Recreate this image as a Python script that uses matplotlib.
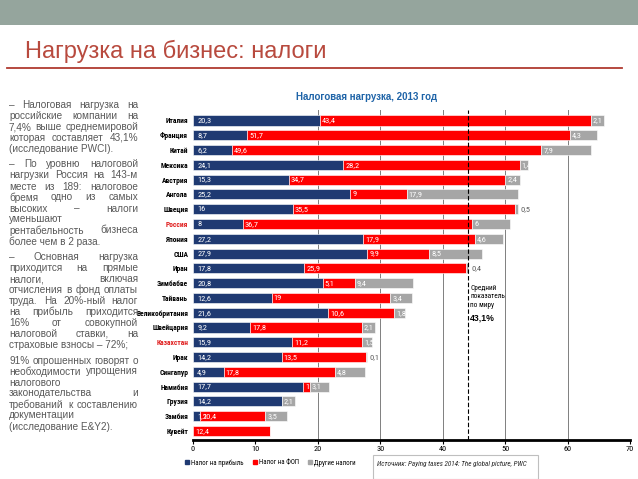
import matplotlib
matplotlib.use("Agg")
import matplotlib.pyplot as plt
from matplotlib.patches import Rectangle
from matplotlib.lines import Line2D

# --- data ---
countries = ["Италия", "Франция", "Китай", "Мексика", "Австрия", "Ангола", "Швеция",
             "Россия", "Япония", "США", "Иран", "Зимбабве", "Тайвань", "Великобритания",
             "Швейцария", "Казахстан", "Ирак", "Сингапур", "Намибия", "Грузия",
             "Замбия", "Кувейт"]
profit_tax = [20.3, 8.7, 6.2, 24.1, 15.3, 25.2, 16, 8, 27.2, 27.9, 17.8, 20.8, 12.6,
              21.6, 9.2, 15.9, 14.2, 4.9, 17.7, 14.2, 1.2, 0]
payroll_tax = [43.4, 51.7, 49.6, 28.2, 34.7, 9, 35.5, 36.7, 17.9, 9.9, 25.9, 5.1, 19,
               10.6, 17.8, 11.2, 13.5, 17.8, 1, 0, 10.4, 12.4]
other_tax = [2.1, 4.3, 7.9, 1.4, 2.4, 17.9, 0.5, 6, 4.6, 8.5, 0.4, 9.4, 3.4, 1.8, 2.1,
             1.5, 0.1, 4.8, 3.1, 2.1, 3.5, 0]
highlight = ["Россия", "Казахстан"]
series_names = ["Налог на прибыль", "Налог на ФОП", "Другие налоги"]
x_ticks = [0, 10, 20, 30, 40, 50, 60, 70]
grid_ticks = [20, 30, 40, 50, 60]
avg_line_pos = 44.1     # where the dashed line sits on the slide
avg_text = "43,1%"

slide_title = "Нагрузка на бизнес: налоги"
chart_title = "Налоговая нагрузка, 2013 год"
source_text = "Источник: Paying taxes 2014: The global picture, PWC"

paragraphs = [
    ["–   Налоговая нагрузка на",
     "российские компании на",
     "7,4% выше среднемировой",
     "которая составляет 43,1%",
     "(исследование PWCI)."],
    ["–   По уровню налоговой",
     "нагрузки Россия на 143-м",
     "месте из 189: налоговое",
     "бремя одно из самых",
     "высоких – налоги",
     "уменьшают",
     "рентабельность бизнеса",
     "более чем в 2 раза."],
    ["–   Основная нагрузка",
     "приходится на прямые",
     "налоги, включая",
     "отчисления в фонд оплаты",
     "труда. На 20%-ный налог",
     "на прибыль приходится",
     "16% от совокупной",
     "налоговой ставки, на",
     "страховые взносы – 72%;"],
    ["91% опрошенных говорят о",
     "необходимости упрощения",
     "налогового",
     "законодательства и",
     "требований к составлению",
     "документации",
     "(исследование E&Y2)."],
]

BLUE = "#1F3A72"
RED = "#FF0000"
GREY = "#A6A6A6"
NARROW = ["Liberation Sans Narrow", "Roboto Condensed", "Liberation Sans", "DejaVu Sans"]
SANS = ["Liberation Sans", "DejaVu Sans"]

W, H = 638, 479
fig = plt.figure(figsize=(W / 100, H / 100), dpi=100)
fig.patch.set_facecolor("white")
renderer = fig.canvas.get_renderer()


def fx(px):
    return px / W


def fy(py):
    return 1 - py / H


# pick a font size so that a sample string has the width it has on the slide
def fit_size(sample, target_px, family, cap=None, **kw):
    t = fig.text(0, 0, sample, fontsize=10, family=family, **kw)
    w = t.get_window_extent(renderer).width
    t.remove()
    size = 10 * target_px / w
    return min(size, cap) if cap else size


lab_size = fit_size("Великобритания", 52, NARROW, cap=6.5, fontweight="bold")
val_size = fit_size("20,3", 14, NARROW, cap=6.5)
tick_size = fit_size("10", 8, NARROW, cap=7)
leg_size = fit_size("Налог на прибыль", 52, NARROW, cap=6.5)
src_size = fit_size(source_text, 150, NARROW, style="italic")
note_size = fit_size("показатель", 35, NARROW, cap=6.5)
avg_size = fit_size(avg_text, 25, SANS, fontweight="bold")
ct_size = fit_size(chart_title, 142, SANS, fontweight="bold")
body_size = fit_size("7,4% выше среднемировой", 127, SANS)

# header band, slide title and red rule
fig.patches.append(Rectangle((0, fy(25)), 1, 25 / H, transform=fig.transFigure,
                             facecolor="#95A59D", edgecolor="none"))
fig.text(fx(25), fy(58), slide_title, fontsize=17, color="#B84A3E",
         family=SANS, va="baseline")
fig.lines.append(Line2D([fx(7), fx(622)], [fy(68), fy(68)], transform=fig.transFigure,
                        color="#B03A30", lw=1.3))

# chart
ax = fig.add_axes([fx(193), fy(440), fx(630) - fx(193), (440 - 110) / H])
ys = list(range(len(countries)))
left2 = [a + b for a, b in zip(profit_tax, payroll_tax)]
bh = 0.68
ax.barh(ys, profit_tax, height=bh, color=BLUE, edgecolor="white", lw=0.4, zorder=3)
ax.barh(ys, payroll_tax, left=profit_tax, height=bh, color=RED, edgecolor="white",
        lw=0.4, zorder=3)
ax.barh(ys, other_tax, left=left2, height=bh, color=GREY, edgecolor="white",
        lw=0.4, zorder=3)

for i in ys:
    segs = [(0, profit_tax[i]), (profit_tax[i], payroll_tax[i]), (left2[i], other_tax[i])]
    for k, (start, v) in enumerate(segs):
        if v == 0:
            continue
        lab = ("%g" % v).replace(".", ",")
        if k == 2 and v < 1:
            ax.annotate(lab, (start + v, i), xytext=(2, 0), textcoords="offset points",
                        va="center", ha="left", fontsize=val_size, color="#595959",
                        family=NARROW, zorder=5)
        else:
            ax.annotate(lab, (start, i), xytext=(3 if k == 0 else 1.5, 0),
                        textcoords="offset points", va="center", ha="left",
                        fontsize=val_size, color="white", family=NARROW, zorder=5)

ax.set_xlim(0, 70)
ax.set_ylim(len(countries) - 1 + 0.61, -0.71)
for g in grid_ticks:
    ax.axvline(g, color="#7F7F7F", lw=0.7, zorder=1)
ax.axvline(avg_line_pos, color="black", lw=0.8, ls=(0, (4, 2)), zorder=4)

ax.set_xticks(x_ticks)
ax.set_xticklabels([str(t) for t in x_ticks], family=NARROW, fontsize=tick_size)
ax.tick_params(axis="x", length=3, width=0.8, pad=1)
ax.set_yticks(ys)
ax.set_yticklabels(countries, family=NARROW, fontsize=lab_size, fontweight="bold")
ax.tick_params(axis="y", length=0, pad=3.5)
for t in ax.get_yticklabels():
    if t.get_text() in highlight:
        t.set_color("#E02020")
for s in ["top", "right", "left"]:
    ax.spines[s].set_visible(False)
ax.spines["bottom"].set_linewidth(2)
ax.set_facecolor("none")

fig.text(fx(366), fy(97), chart_title, fontsize=ct_size, fontweight="bold",
         color="#1F64A8", family=SANS, ha="center", va="center")

# world average note
ax.text(avg_line_pos + 0.3, 11.1, "Средний\nпоказатель\nпо миру", fontsize=note_size,
        family=NARROW, va="top", ha="left", linespacing=1.35)
ax.text(avg_line_pos + 0.3, 13.35, avg_text, fontsize=avg_size, fontweight="bold",
        family=SANS, va="center", ha="left")

# legend
handles = [Line2D([], [], marker="s", ls="", color=c, markersize=2.8)
           for c in (BLUE, RED, GREY)]
fig.legend(handles, series_names, loc="center left",
           bbox_to_anchor=(fx(179), fy(463)), ncol=3, frameon=False,
           handlelength=0.6, handletextpad=0.3, columnspacing=1.3,
           prop={"family": NARROW, "size": leg_size})

# source box
fig.patches.append(Rectangle((fx(373), 0), fx(538) - fx(373), fy(455),
                             transform=fig.transFigure, facecolor="white",
                             edgecolor="#BFBFBF", lw=0.8))
fig.text(fx(377), fy(464), source_text, fontsize=src_size, style="italic",
         family=NARROW, color="#262626", va="center")

# left justified text column
x0, x1 = 9, 138
step, para_step = 11, 15.5
y = 105
for para in paragraphs:
    for j, line in enumerate(para):
        words = line.split()
        last = j == len(para) - 1
        kw = dict(fontsize=body_size, color="#595959", family=SANS, va="center")
        if last or len(words) < 2:
            fig.text(fx(x0), fy(y), line, **kw)
        else:
            texts = [fig.text(0, fy(y), w, **kw) for w in words]
            widths = [t.get_window_extent(renderer).width for t in texts]
            gap = (x1 - x0 - sum(widths)) / (len(words) - 1)
            xp = x0
            for t, wd in zip(texts, widths):
                t.set_x(fx(xp))
                xp += wd + gap
        y += step
    y += para_step - step

fig.savefig("out.png", dpi=100)
